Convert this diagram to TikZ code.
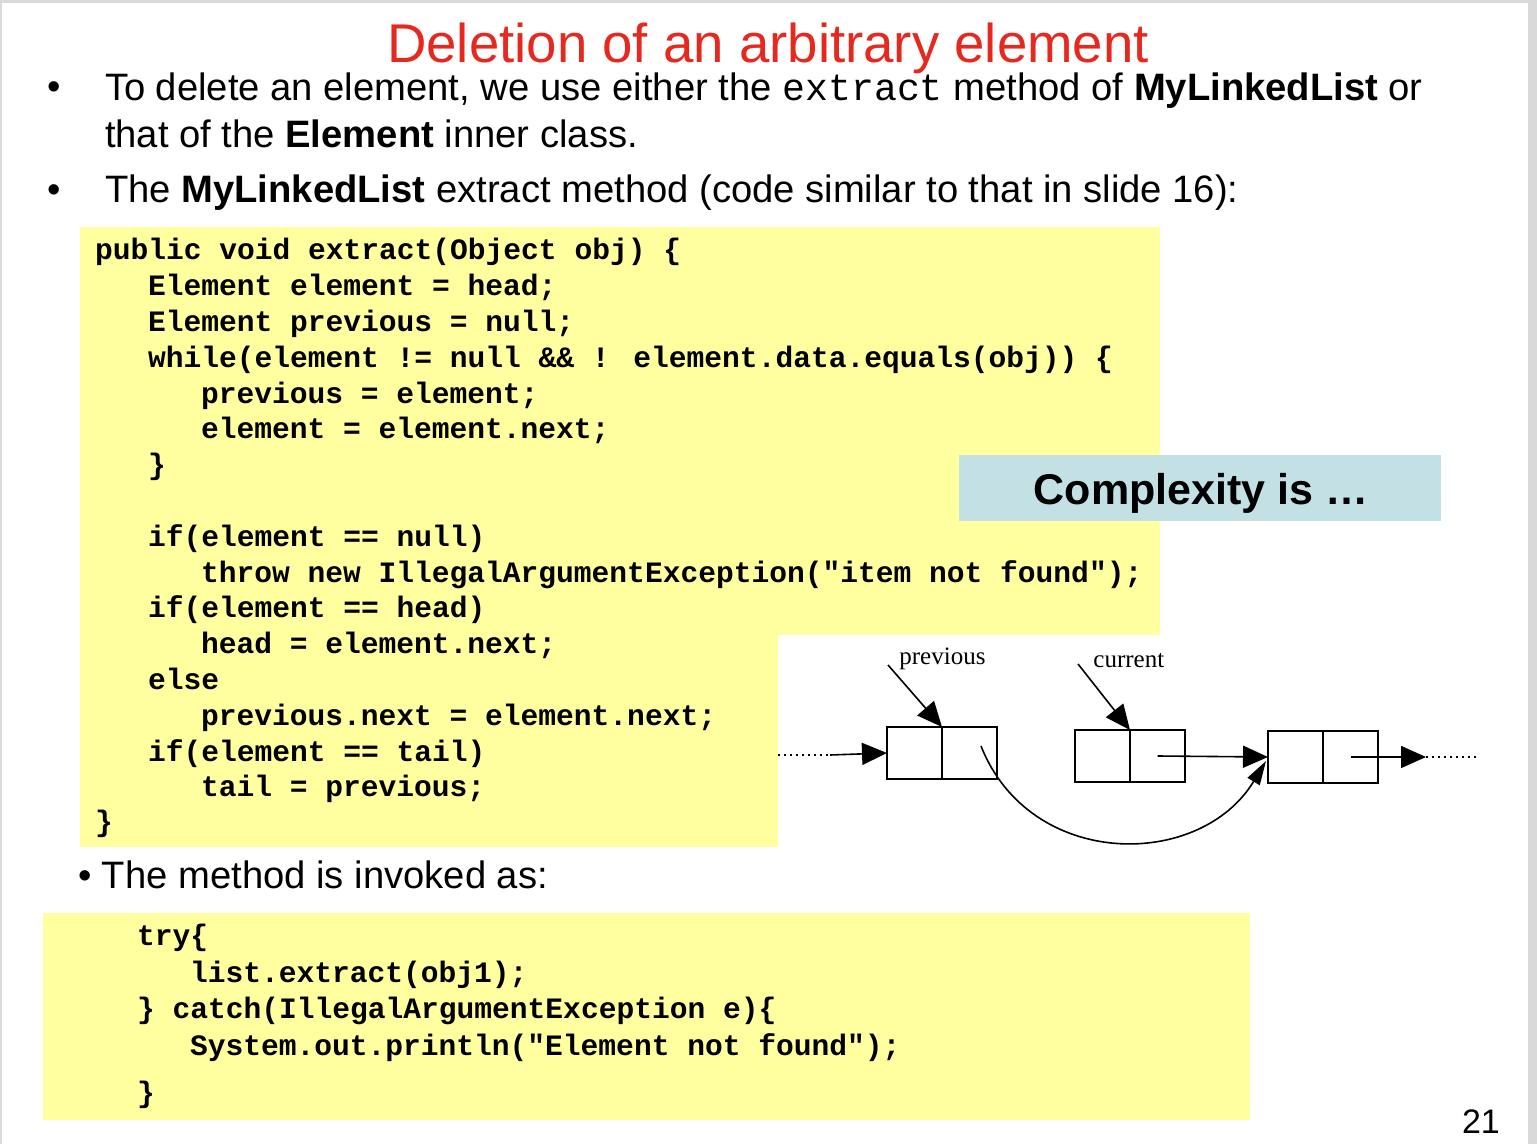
\documentclass[tikz,border=0pt]{standalone}
\usepackage{fontspec}
\setmainfont{Liberation Sans}
\newfontfamily\codefont{Liberation Mono}
\newfontfamily\lblfont{Liberation Serif}
\usetikzlibrary{arrows.meta}
\definecolor{codeyellow}{RGB}{255,255,160}
\definecolor{cplxblue}{RGB}{195,225,228}
\definecolor{framegrey}{RGB}{217,217,217}
\definecolor{titlered}{RGB}{230,40,30}
\tikzset{
  txt/.style={anchor=base west,inner sep=0pt,outer sep=0pt},
  title/.style={anchor=base,inner sep=0pt,text=titlered,font=\fontsize{27.3}{27.3}\selectfont},
  bul/.style={txt,font=\fontsize{19.1}{19.1}\selectfont},
  code/.style={txt,font=\codefont\bfseries\fontsize{14.8}{14.8}\selectfont},
  lbl/.style={anchor=base west,inner sep=0pt,font=\lblfont\fontsize{12.5}{12.5}\selectfont},
  cell/.style={draw,line width=0.8pt,minimum width=27.5pt,minimum height=26pt,inner sep=0pt,outer sep=0pt},
  link/.style={line width=0.8pt,-{Triangle[length=12.5pt,width=11pt]}},
  dots/.style={line width=0.8pt,dash pattern=on 1pt off 2pt},
}
\begin{document}
\begin{tikzpicture}[x=0.5pt,y=-0.5pt]
\useasboundingbox (0,0) rectangle (1537,1144);
\fill[framegrey] (0,0) rectangle (1537,1144);
\fill[white] (2,3) rectangle (1528,1144);
% title
\node[title] (ttl) at (768,63) {Deletion of an arbitrary element};
% bullets
\node[bul] (b1) at (47,100) {\textbullet};
\node[bul] (t1) at (105,101) {To delete an element, we use either the {\codefont extract} method of \textbf{MyLinkedList} or};
\node[bul] (t1b) at (105,148) {that of the \textbf{Element} inner class.};
\node[bul] (b2) at (47,203) {\textbullet};
\node[bul] (t2) at (105,203) {The \textbf{MyLinkedList} extract method (code similar to that in slide 16):};
% code box 1
\fill[codeyellow] (80,227) rectangle (1160,635);
\fill[codeyellow] (80,635) rectangle (778,847);
\node[code] (c1)  at (95,260)  {public void extract(Object obj) \{};
\node[code] (c2)  at (148,296) {Element element = head;};
\node[code] (c3)  at (148,332) {Element previous = null;};
\node[code] (c4)  at (148,368) {while(element != null \&\& ! element.data.equals(obj)) \{};
\node[code] (c5)  at (201,404) {previous = element;};
\node[code] (c6)  at (201,439) {element = element.next;};
\node[code] (c7)  at (148,475) {\}};
\node[code] (c9)  at (148,546) {if(element == null)};
\node[code] (c10) at (201,582) {throw new IllegalArgumentException("item not found");};
\node[code] (c11) at (148,617) {if(element == head)};
\node[code] (c12) at (201,653) {head = element.next;};
\node[code] (c13) at (148,689) {else};
\node[code] (c14) at (201,725) {previous.next = element.next;};
\node[code] (c15) at (148,761) {if(element == tail)};
\node[code] (c16) at (201,796) {tail = previous;};
\node[code] (c17) at (95,831)  {\}};
% complexity box
\node[fill=cplxblue,minimum width=241pt,minimum height=33pt,inner sep=0pt,anchor=north west] (cplx) at (959,455) {};
\node[anchor=base,inner sep=0pt,font=\bfseries\fontsize{21.5}{21.5}\selectfont] (cplxt) at (1201,504) {Complexity is \dots};
% diagram
\node[cell,anchor=north west] (p1) at (887,727) {};
\node[cell,anchor=north west] (p2) at (942,727) {};
\node[cell,anchor=north west] (q1) at (1075,730) {};
\node[cell,anchor=north west] (q2) at (1130,730) {};
\node[cell,anchor=north west] (r1) at (1268,731) {};
\node[cell,anchor=north west] (r2) at (1323,731) {};
\coordinate (lin0) at (778,755);
\coordinate (lin1) at (830,755);
\draw[dots] (lin0) -- (lin1);
\draw[link] (lin1) -- (p1.west);
\draw[link] (q2.center) -- (r1.west);
\coordinate (rout) at (1426,757);
\coordinate (rend) at (1476,757);
\draw[link] (r2.center) -- (rout);
\draw[dots] (rout) -- (rend);
\coordinate (curvs) at (981,746);
\coordinate (curve) at (1266,761);
\draw[line width=0.8pt,-{Triangle[length=12pt,width=7pt]}] (curvs) .. controls (1030,870) and (1200,870) .. (curve);
\node[lbl] (lprev) at (899,664) {previous};
\node[lbl] (lcur) at (1093,667) {current};
\coordinate (aprev) at (888,665);
\coordinate (acur) at (1078,664);
\draw[link] (aprev) -- (p1.north east);
\draw[link] (acur) -- (q1.north east);
% second bullet
\node[bul] (b3) at (78,888) {\textbullet\ The method is invoked as:};
% code box 2
\fill[codeyellow] (43,913) rectangle (1250,1120);
\node[code] (d1) at (137,945)  {try\{};
\node[code] (d2) at (190,982)  {list.extract(obj1);};
\node[code] (d3) at (137,1018) {\} catch(IllegalArgumentException e)\{};
\node[code] (d4) at (190,1055) {System.out.println("Element not found");};
\node[code] (d5) at (137,1102) {\}};
% page number
\node[txt,font=\fontsize{17}{17}\selectfont] (pg) at (1462,1133) {21};
\end{tikzpicture}
\end{document}
